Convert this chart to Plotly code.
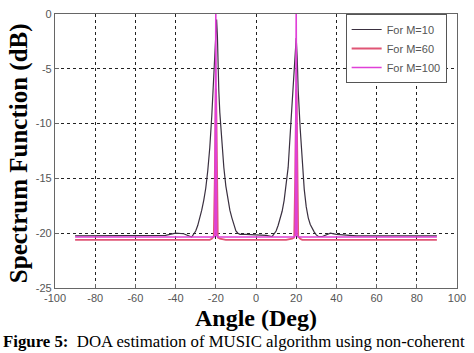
import plotly.graph_objects as go

# M=10 (black)
ang10 = [-90, -80, -70, -60, -50, -45, -40, -36, -32, -31, -30, -29, -28, -27, -26, -25, -24, -23, -22, -21,
         -20.5, -20, -19.6, -19.2, -19, -18.5, -18, -17, -16, -15, -14, -13, -12, -11, -10, -9, -8, -5, 0, 5,
         8, 9, 10, 11, 12, 13, 14, 15, 16, 17, 18, 19, 19.5, 20, 20.5, 21, 22, 23, 24, 25, 26, 27, 28, 29, 30,
         31, 33, 37, 40, 45, 50, 60, 70, 80, 90]
val10 = [-20.25, -20.25, -20.25, -20.25, -20.25, -20.2, -20.0, -20.05, -20.35, -20.1, -19.8, -19.3, -18.7,
         -17.9, -17.0, -15.9, -14.3, -12.2, -9.3, -6.0, -3.5, -1.5, -0.5, -2.0, -4.0, -7.0, -9.0, -11.8, -14.0,
         -15.7, -17.0, -17.9, -18.6, -19.2, -19.8, -20.0, -20.1, -20.1, -20.15, -20.2, -20.3, -20.1, -19.8,
         -19.3, -18.7, -18.0, -17.0, -15.7, -14.0, -11.0, -8.0, -5.0, -3.0, -2.2, -4.0, -7.0, -10.5, -13.8,
         -16.0, -17.6, -18.6, -19.2, -19.6, -19.9, -20.15, -20.3, -20.3, -20.0, -20.1, -20.2, -20.25, -20.25,
         -20.25, -20.25, -20.25]

# M=60 (red)
ang60 = [-90, -60, -30, -23, -22, -21, -20.5, -20.2, -20, -19.8, -19.5, -19, -18, -15, 0, 15, 18, 19, 19.5,
         19.8, 20, 20.2, 20.5, 21, 22, 23, 30, 60, 90]
val60 = [-20.6, -20.6, -20.6, -20.6, -20.5, -20.3, -15.0, -7.5, -6.8, -7.5, -15.0, -20.4, -20.5, -20.6, -20.6,
         -20.6, -20.5, -20.4, -15.0, -7.5, -6.9, -7.5, -15.0, -20.3, -20.5, -20.6, -20.6, -20.6, -20.6]

# M=100 (magenta)
ang100 = [-90, -60, -30, -21, -20.4, -20.2, -20, -19.8, -19.6, -19, 0, 19, 19.6, 19.8, 20, 20.2, 20.4, 21, 30,
          60, 90]
val100 = [-20.35, -20.35, -20.35, -20.35, -20.2, -10.0, 0.0, -10.0, -20.2, -20.35, -20.35, -20.35, -20.2, -10.0,
          0.0, -10.0, -20.2, -20.35, -20.35, -20.35, -20.35]

xticks = [-100, -80, -60, -40, -20, 0, 20, 40, 60, 80, 100]
yticks = [0, -5, -10, -15, -20, -25]

fig = go.Figure()
fig.add_trace(go.Scatter(x=ang10, y=val10, mode="lines", name="For M=10",
                         line=dict(color="#3a3040", width=1.2)))
fig.add_trace(go.Scatter(x=ang60, y=val60, mode="lines", name="For M=60",
                         line=dict(color="#e05575", width=1.8)))
fig.add_trace(go.Scatter(x=ang100, y=val100, mode="lines", name="For M=100",
                         line=dict(color="#e040d8", width=1.6)))

axis_common = dict(
    showline=True, linecolor="#666666", linewidth=1.2, mirror=True,
    showgrid=True, gridcolor="#222222", griddash="dot", gridwidth=1,
    zeroline=False, ticks="inside", ticklen=4, tickcolor="#666666",
    tickfont=dict(family="Arial, Liberation Sans", size=11, color="#555555"),
)

fig.update_xaxes(range=[-100, 100], tickvals=xticks, ticktext=[str(v) for v in xticks], **axis_common)
fig.update_yaxes(range=[-25, 0], tickvals=yticks, ticktext=[str(v) for v in yticks], **axis_common)

pw = 474 - 55 - 15
ph = 353 - 8 - 65

fig.update_layout(
    width=474, height=353,
    margin=dict(l=55, r=15, t=8, b=65),
    paper_bgcolor="white", plot_bgcolor="white",
    showlegend=True,
    legend=dict(x=0.723, y=1.0, xanchor="left", yanchor="top",
                bgcolor="white", bordercolor="#555555", borderwidth=1,
                font=dict(family="Arial, Liberation Sans", size=11, color="#555555"),
                tracegroupgap=0, itemwidth=30),
    annotations=[
        dict(text="<b>Angle (Deg)</b>", x=(257 - 55) / pw, y=(288 - 319) / ph, xref="paper", yref="paper",
             xanchor="center", yanchor="middle", showarrow=False,
             font=dict(family="Liberation Serif, Times New Roman", size=24, color="black")),
        dict(text="<b>Spectrum Function (dB)</b>", x=(19 - 55) / pw, y=(288 - 150) / ph,
             xref="paper", yref="paper", xanchor="center", yanchor="middle",
             showarrow=False, textangle=-90,
             font=dict(family="Liberation Serif, Times New Roman", size=25, color="black")),
        dict(text="<b>Figure 5:</b>  DOA estimation of MUSIC algorithm using non-coherent",
             x=(1 - 55) / pw, y=(288 - 343) / ph, xref="paper", yref="paper",
             xanchor="left", yanchor="middle", showarrow=False,
             font=dict(family="Liberation Serif, Times New Roman", size=16.8, color="black")),
    ],
)

fig.write_html("out.html")
